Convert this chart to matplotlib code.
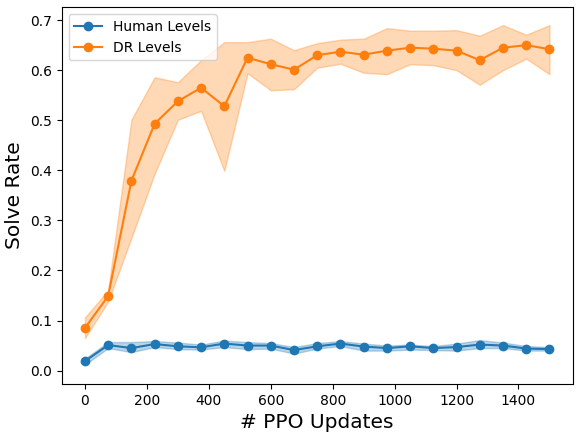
import matplotlib
matplotlib.use('Agg')
import matplotlib.pyplot as plt
import numpy as np

updates = np.arange(0, 1501, 75)

human_mean = [0.019, 0.051, 0.045, 0.053, 0.0485, 0.0465, 0.054, 0.050, 0.050, 0.041, 0.0485,
              0.054, 0.048, 0.045, 0.0485, 0.045, 0.047, 0.052, 0.050, 0.044, 0.043]
human_low = [0.012, 0.045, 0.037, 0.047, 0.043, 0.042, 0.047, 0.043, 0.044, 0.034, 0.044,
             0.049, 0.040, 0.040, 0.042, 0.041, 0.040, 0.045, 0.045, 0.040, 0.040]
human_high = [0.024, 0.057, 0.057, 0.059, 0.056, 0.052, 0.060, 0.057, 0.055, 0.047, 0.055,
              0.059, 0.054, 0.050, 0.052, 0.049, 0.054, 0.061, 0.056, 0.049, 0.047]

dr_mean = [0.085, 0.149, 0.379, 0.493, 0.538, 0.565, 0.528, 0.625, 0.612, 0.601, 0.630,
           0.637, 0.631, 0.639, 0.645, 0.643, 0.639, 0.620, 0.645, 0.650, 0.642]
dr_low = [0.065, 0.138, 0.265, 0.393, 0.501, 0.519, 0.399, 0.594, 0.560, 0.562, 0.605,
          0.613, 0.595, 0.592, 0.612, 0.610, 0.600, 0.571, 0.600, 0.623, 0.592]
dr_high = [0.106, 0.161, 0.501, 0.586, 0.576, 0.620, 0.656, 0.656, 0.663, 0.640, 0.654,
           0.661, 0.663, 0.684, 0.679, 0.679, 0.680, 0.669, 0.690, 0.671, 0.690]

fig = plt.figure(figsize=(5.79, 4.37), dpi=100)
ax = fig.add_axes([0.1066, 0.121, 0.8825, 0.8627])

ax.plot(updates, human_mean, marker='o', color='C0', label='Human Levels')
ax.fill_between(updates, human_low, human_high, color='C0', alpha=0.3)
ax.plot(updates, dr_mean, marker='o', color='C1', label='DR Levels')
ax.fill_between(updates, dr_low, dr_high, color='C1', alpha=0.3)

ax.set_ylim(-0.027, 0.726)
ax.set_xlabel('# PPO Updates', fontsize=14.5)
ax.set_ylabel('Solve Rate', fontsize=14.5)
ax.legend(loc='upper left')

fig.savefig('out.png', dpi=100)
